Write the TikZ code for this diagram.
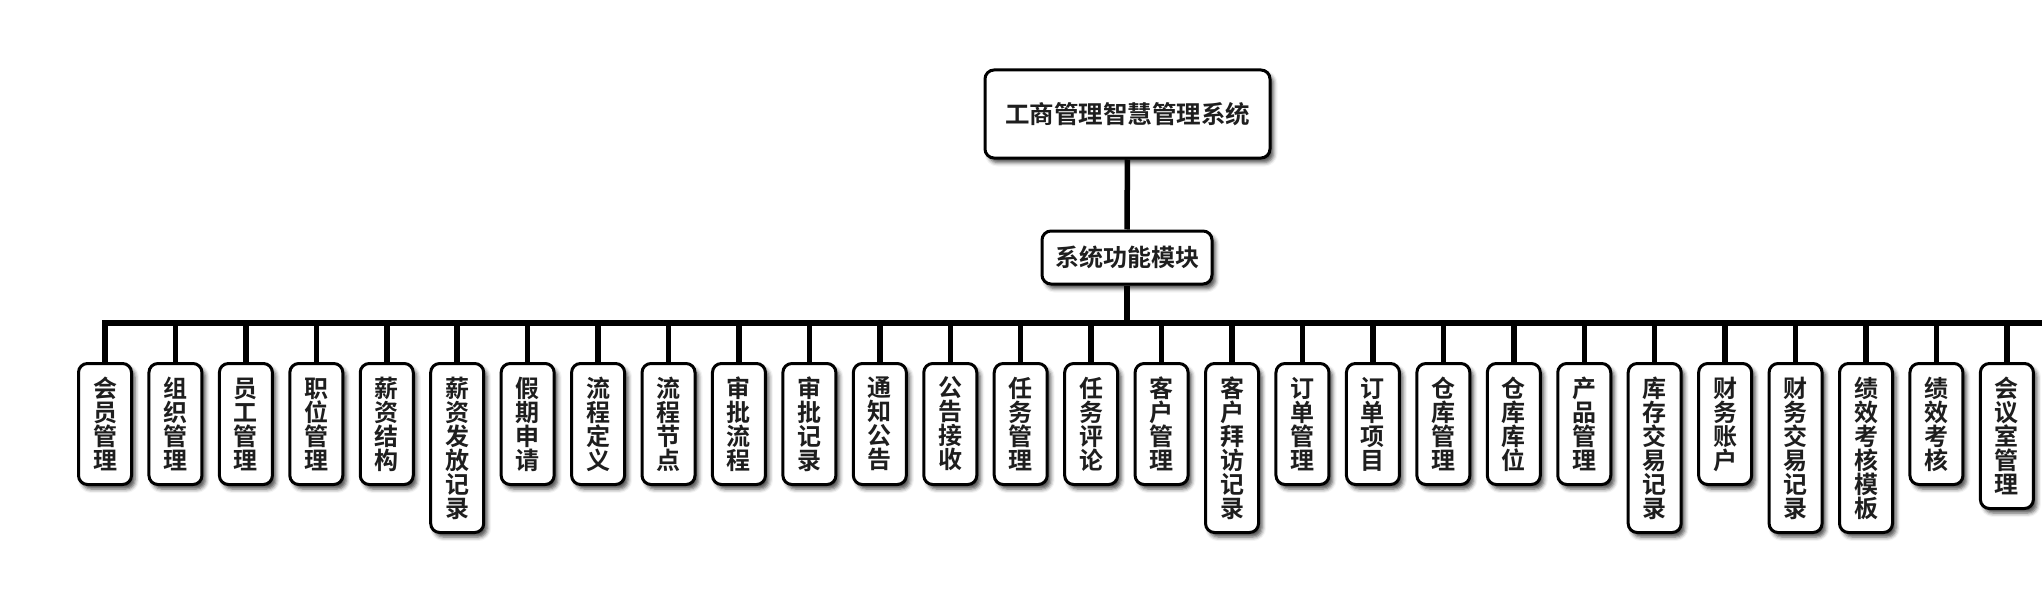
\documentclass[tikz,border=0pt]{standalone}
\usepackage{fontspec}
\newfontfamily\cjk{Noto Sans CJK SC Bold}
\usetikzlibrary{shadows.blur}
\definecolor{txt}{HTML}{1E1E1E}
\tikzset{
  box/.style={draw=black, line width=3pt, fill=white, rounded corners=9pt,
    text=txt, font=\cjk\fontsize{24}{24}\selectfont, align=center,
    inner sep=0pt,
    blur shadow={shadow xshift=3.5pt, shadow yshift=-4.5pt, shadow blur radius=4pt, shadow opacity=70}},
  leafbox/.style={box, minimum width=53pt, anchor=north},
  conn/.style={line width=5.5pt, draw=black}
}
\begin{document}
\begin{tikzpicture}[x=1pt,y=1pt]
\useasboundingbox (0,0) rectangle (2042,-607);
\node[box, minimum width=285pt, minimum height=88pt, font=\cjk\fontsize{24.5}{26}\selectfont] (root) at (1127.5,-114) {工商管理智慧管理系统};
\node[box, minimum width=170pt, minimum height=53pt] (mid) at (1127,-257.5) {系统功能模块};
\coordinate (barR) at (2042,-323);
\foreach \n/\t [count=\i from 0] in {
  4/{会\\员\\管\\理}, 4/{组\\织\\管\\理}, 4/{员\\工\\管\\理}, 4/{职\\位\\管\\理},
  4/{薪\\资\\结\\构}, 6/{薪\\资\\发\\放\\记\\录}, 4/{假\\期\\申\\请}, 4/{流\\程\\定\\义},
  4/{流\\程\\节\\点}, 4/{审\\批\\流\\程}, 4/{审\\批\\记\\录}, 4/{通\\知\\公\\告},
  4/{公\\告\\接\\收}, 4/{任\\务\\管\\理}, 4/{任\\务\\评\\论}, 4/{客\\户\\管\\理},
  6/{客\\户\\拜\\访\\记\\录}, 4/{订\\单\\管\\理}, 4/{订\\单\\项\\目}, 4/{仓\\库\\管\\理},
  4/{仓\\库\\库\\位}, 4/{产\\品\\管\\理}, 6/{库\\存\\交\\易\\记\\录}, 4/{财\\务\\账\\户},
  6/{财\\务\\交\\易\\记\\录}, 6/{绩\\效\\考\\核\\模\\板}, 4/{绩\\效\\考\\核}, 5/{会\\议\\室\\管\\理}}
{
  \pgfmathsetmacro{\h}{\n*24+25}
  \node[leafbox, minimum height=\h pt] (l\i) at ({105+70.44*\i},-362) {\t};
}
\draw[conn] (root) -- (mid);
\draw[conn] (mid.south) -- (mid.south |- barR);
\draw[conn] (l0.north) |- (barR);
\foreach \i in {1,...,27} {
  \draw[conn] (l\i.north) -- (l\i.north |- barR);
}
\end{tikzpicture}
\end{document}
